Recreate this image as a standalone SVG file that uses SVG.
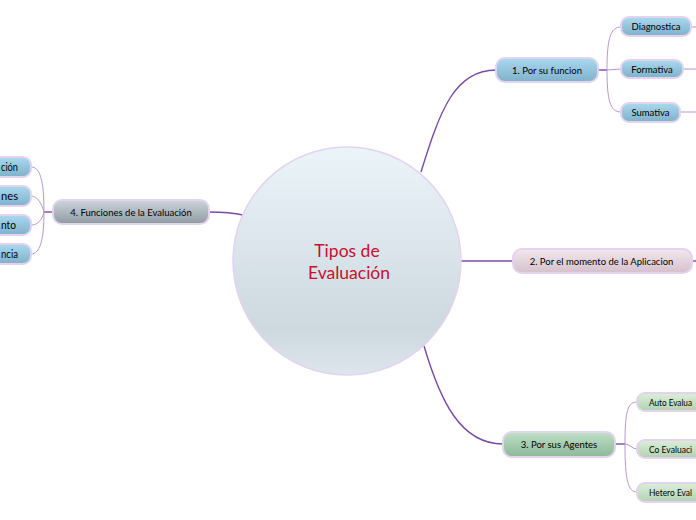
<svg xmlns="http://www.w3.org/2000/svg" width="696" height="520" viewBox="0 0 696 520">
<defs>
<linearGradient id="gCircle" x1="0" y1="0" x2="0" y2="1">
<stop offset="0" stop-color="#ebf4f9"/><stop offset="0.8" stop-color="#cdd8df"/><stop offset="1" stop-color="#dde6ec"/>
</linearGradient>
<linearGradient id="gBlue" x1="0" y1="0" x2="0" y2="1">
<stop offset="0" stop-color="#aad9ef"/><stop offset="1" stop-color="#7eb1ca"/>
</linearGradient>
<linearGradient id="gGray" x1="0" y1="0" x2="0" y2="1">
<stop offset="0" stop-color="#ccd5db"/><stop offset="1" stop-color="#8e9aa2"/>
</linearGradient>
<linearGradient id="gPink" x1="0" y1="0" x2="0" y2="1">
<stop offset="0" stop-color="#f3e8ee"/><stop offset="1" stop-color="#d5c0cb"/>
</linearGradient>
<linearGradient id="gGreen" x1="0" y1="0" x2="0" y2="1">
<stop offset="0" stop-color="#bfe0c6"/><stop offset="1" stop-color="#8db898"/>
</linearGradient>
<linearGradient id="gLGreen" x1="0" y1="0" x2="0" y2="1">
<stop offset="0" stop-color="#dcefd9"/><stop offset="1" stop-color="#b3d1b0"/>
</linearGradient>
</defs>
<style>
.box{stroke:#e3d3ee;stroke-width:2}
.t{font-family:Lato,"Open Sans","Liberation Sans",sans-serif;font-size:9.5px;fill:#000}
.tl{font-family:Lato,"Open Sans","Liberation Sans",sans-serif;font-size:11.5px;fill:#000}
.main{fill:none;stroke:#7a4aa8;stroke-width:1.4}
.sub{fill:none;stroke:#b796d0;stroke-width:1}
.title{font-family:Lato,"Open Sans","Liberation Sans",sans-serif;font-size:17.5px;fill:#c8102e;text-anchor:middle}
</style>
<rect width="696" height="520" fill="#ffffff"/>
<g id="connectors">
<path class="main" d="M421,172 C440,110 455,70 496,70"/>
<path class="main" d="M461,261 L513,261"/>
<path class="main" d="M424,346 C440,400 460,444 503,444"/>
<path class="main" d="M243,215 C230,212 222,212 209,212"/>
<path class="main" d="M598,70 L607,70"/>
<path class="sub" d="M607,70 L621,69"/>
<path class="sub" d="M607,70 C607,40 610,27 621,27"/>
<path class="sub" d="M607,70 C607,100 610,112 621,112"/>
<path class="sub" d="M691,27 L696,27 M683,69 L696,69 M680,112 L696,112"/>
<path class="main" d="M692,261 L696,261"/>
<path class="main" d="M615,444 L625,444"/>
<path class="sub" d="M625,444 C625,410 628,402 637,402"/>
<path class="sub" d="M625,444 C630,444 632,449 637,449"/>
<path class="sub" d="M625,444 C625,480 628,492 637,492"/>
<path class="main" d="M53,212 L44,212"/>
<path class="sub" d="M44,212 C44,180 40,167 31,167"/>
<path class="sub" d="M44,212 C42,205 38,196 31,196"/>
<path class="sub" d="M44,212 C42,220 38,225 31,225"/>
<path class="sub" d="M44,212 C44,240 40,254 31,254"/>
</g>
<g id="center">
<circle cx="347" cy="261" r="114" fill="url(#gCircle)" stroke="#e3d3ee" stroke-width="1.5"/>
<text class="title" x="347" y="257">Tipos de</text>
<text class="title" x="349" y="279">Evaluación</text>
</g>
<g id="n1">
<rect class="box" x="496" y="58" width="102" height="24" rx="9" fill="url(#gBlue)"/>
<text class="t" x="547" y="73.5" text-anchor="middle">1. Por su funcion</text>
</g>
<g id="n1a">
<rect class="box" x="621" y="17" width="70" height="19" rx="8" fill="url(#gBlue)"/>
<text class="t" x="656" y="30" text-anchor="middle">Diagnostica</text>
</g>
<g id="n1b">
<rect class="box" x="621" y="60" width="62" height="18" rx="8" fill="url(#gBlue)"/>
<text class="t" x="652" y="72.5" text-anchor="middle">Formativa</text>
</g>
<g id="n1c">
<rect class="box" x="621" y="103" width="59" height="19" rx="8" fill="url(#gBlue)"/>
<text class="t" x="650.5" y="116" text-anchor="middle">Sumativa</text>
</g>
<g id="n2">
<rect class="box" x="513" y="249" width="179" height="24" rx="9" fill="url(#gPink)"/>
<text class="t" x="601.5" y="264.5" text-anchor="middle">2. Por el momento de la Aplicacion</text>
</g>
<g id="n3">
<rect class="box" x="503" y="432" width="112" height="25" rx="9" fill="url(#gGreen)"/>
<text class="t" x="559" y="448" text-anchor="middle">3. Por sus Agentes</text>
</g>
<g id="n3a">
<rect class="box" x="637" y="393" width="80" height="18" rx="8" fill="url(#gLGreen)"/>
<text class="t" x="649" y="405.5" textLength="43" lengthAdjust="spacingAndGlyphs">Auto Evalua</text>
</g>
<g id="n3b">
<rect class="box" x="637" y="440" width="80" height="18" rx="8" fill="url(#gLGreen)"/>
<text class="t" x="649" y="452.5" textLength="43" lengthAdjust="spacingAndGlyphs">Co Evaluaci</text>
</g>
<g id="n3c">
<rect class="box" x="637" y="483" width="80" height="19" rx="8" fill="url(#gLGreen)"/>
<text class="t" x="649" y="496" textLength="43" lengthAdjust="spacingAndGlyphs">Hetero Eval</text>
</g>
<g id="n4">
<rect class="box" x="53" y="200" width="156" height="24" rx="9" fill="url(#gGray)"/>
<text class="t" x="131" y="215.5" text-anchor="middle">4. Funciones de la Evaluación</text>
</g>
<g id="n4a">
<rect class="box" x="-60" y="157" width="91" height="20" rx="8" fill="url(#gBlue)"/>
<text class="tl" x="1" y="171" textLength="17" lengthAdjust="spacingAndGlyphs">ción</text>
</g>
<g id="n4b">
<rect class="box" x="-60" y="186" width="91" height="20" rx="8" fill="url(#gBlue)"/>
<text class="tl" x="1" y="200" textLength="17" lengthAdjust="spacingAndGlyphs">nes</text>
</g>
<g id="n4c">
<rect class="box" x="-60" y="215" width="91" height="20" rx="8" fill="url(#gBlue)"/>
<text class="tl" x="1" y="229" textLength="15" lengthAdjust="spacingAndGlyphs">nto</text>
</g>
<g id="n4d">
<rect class="box" x="-60" y="244" width="91" height="20" rx="8" fill="url(#gBlue)"/>
<text class="tl" x="1" y="258" textLength="17" lengthAdjust="spacingAndGlyphs">ncia</text>
</g>
</svg>
